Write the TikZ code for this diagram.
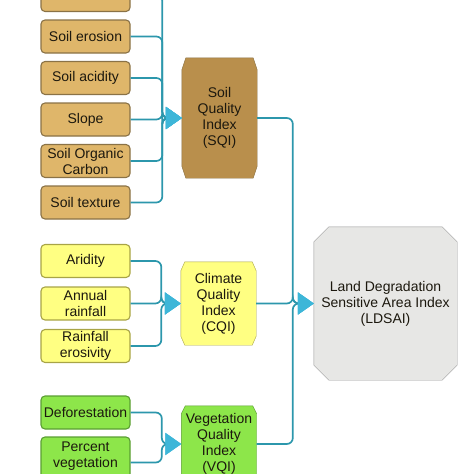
\documentclass[tikz,border=0pt]{standalone}
\usepackage{fontspec}
\setmainfont{Liberation Sans}
\usetikzlibrary{arrows.meta,positioning,backgrounds}

\definecolor{soilfill}{HTML}{DFB66A}
\definecolor{soiledge}{HTML}{8A7246}
\definecolor{sqifill}{HTML}{B98F4C}
\definecolor{climfill}{HTML}{FFFF82}
\definecolor{climedge}{HTML}{A8A446}
\definecolor{vegfill}{HTML}{8DE64A}
\definecolor{vegedge}{HTML}{5A9E32}
\definecolor{greyfill}{HTML}{E7E7E5}
\definecolor{greyedge}{HTML}{989898}
\definecolor{linkc}{HTML}{2C97AC}
\definecolor{tipc}{HTML}{3DB6D8}
\definecolor{txt}{HTML}{1C180E}

% outline with cut corners round a node: node, x cut, y cut, style
\newcommand\cutbox[4]{%
    \path[#4] ([xshift=#2]#1.north west) -- ([xshift=-#2]#1.north east)
        -- ([yshift=-#3]#1.north east) -- ([yshift=#3]#1.south east)
        -- ([xshift=-#2]#1.south east) -- ([xshift=#2]#1.south west)
        -- ([yshift=#3]#1.south west) -- ([yshift=-#3]#1.north west) -- cycle;}

\begin{document}
\begin{tikzpicture}[%
        x=1pt, y=-1pt,
        >={Triangle[length=16pt,width=22pt,color=tipc]},
        node distance=41.5pt,
        on grid,
        font=\fontsize{14pt}{16pt}\selectfont,
        every node/.style={text=txt, align=center},
        input/.style={draw, rounded corners=4pt, line width=1.1pt,
            minimum width=89pt, minimum height=33pt, inner sep=1pt},
        index/.style={minimum width=75pt, inner sep=0pt},
        soil/.style={input, fill=soilfill, draw=soiledge},
        clim/.style={input, fill=climfill, draw=climedge},
        veg/.style={input, fill=vegfill, draw=vegedge},
        link/.style={draw=linkc, line width=1.7pt, rounded corners=6pt}
        ]

        \useasboundingbox (0,0) rectangle (474,474);
        \clip (0,0) rectangle (474,474);

        % soil inputs
        \node[soil] (dep) at (85.5,-5) {};
        \node[soil] (ero) [below of=dep] {Soil erosion};
        \node[soil] (aci) [below of=ero] {Soil acidity};
        \node[soil] (slo) [below of=aci] {Slope};
        \node[soil] (soc) [below of=slo] {Soil Organic\\Carbon};
        \node[soil] (tex) [below of=soc] {Soil texture};

        % climate inputs
        \node[clim] (ari) at (85.5,261) {Aridity};
        \node[clim] (ann) [below of=ari, node distance=42.5pt] {Annual\\rainfall};
        \node[clim] (rer) [below of=ann, node distance=42.5pt] {Rainfall\\erosivity};

        % vegetation inputs
        \node[veg] (def) at (85.5,412.5) {Deforestation};
        \node[veg, minimum height=51pt] (pvc) [below of=def, node distance=50pt] {Percent\\vegetation\\\mbox{}};

        % indices
        \node[index, minimum height=120pt] (sqi) at (219.5,118) {Soil\\Quality\\Index\\(SQI)};
        \node[index, minimum height=83pt] (cqi) at (218.5,303.5) {Climate\\Quality\\Index\\(CQI)};
        \node[index, minimum height=76pt] (vqi) at (219,444) {Vegetation\\Quality\\Index\\(VQI)};
        \node[minimum width=143pt, minimum height=153pt, inner sep=0pt] (ldsai) at (385.5,303.5) {Land Degradation\\Sensitive Area Index\\(LDSAI)};

        \begin{scope}[on background layer, line width=1.1pt]
            \cutbox{sqi}{4pt}{12pt}{fill=sqifill, draw=soiledge}
            \cutbox{cqi}{4pt}{9pt}{fill=climfill, draw=climedge}
            \cutbox{vqi}{4pt}{8pt}{fill=vegfill, draw=vegedge}
            \cutbox{ldsai}{15pt}{15pt}{fill=greyfill, draw=greyedge}
        \end{scope}

        \coordinate[left=19.5pt of sqi.west] (jS);
        \coordinate[left=19.5pt of cqi.west] (jC);
        \coordinate[left=19.5pt of vqi.west] (jV);
        \coordinate[left=21pt of ldsai.west] (jL);

        \foreach \n in {dep,ero,aci,slo,soc,tex}
            \draw[link,->] (\n) -| (jS) -- (sqi);
        \foreach \n in {ari,ann,rer}
            \draw[link,->] (\n) -| (jC) -- (cqi);
        \foreach \n in {def,pvc}
            \draw[link,->] (\n) -| (jV) -- (vqi);
        \foreach \n in {sqi,cqi,vqi}
            \draw[link,->] (\n) -| (jL) -- (ldsai);

\end{tikzpicture}
\end{document}
